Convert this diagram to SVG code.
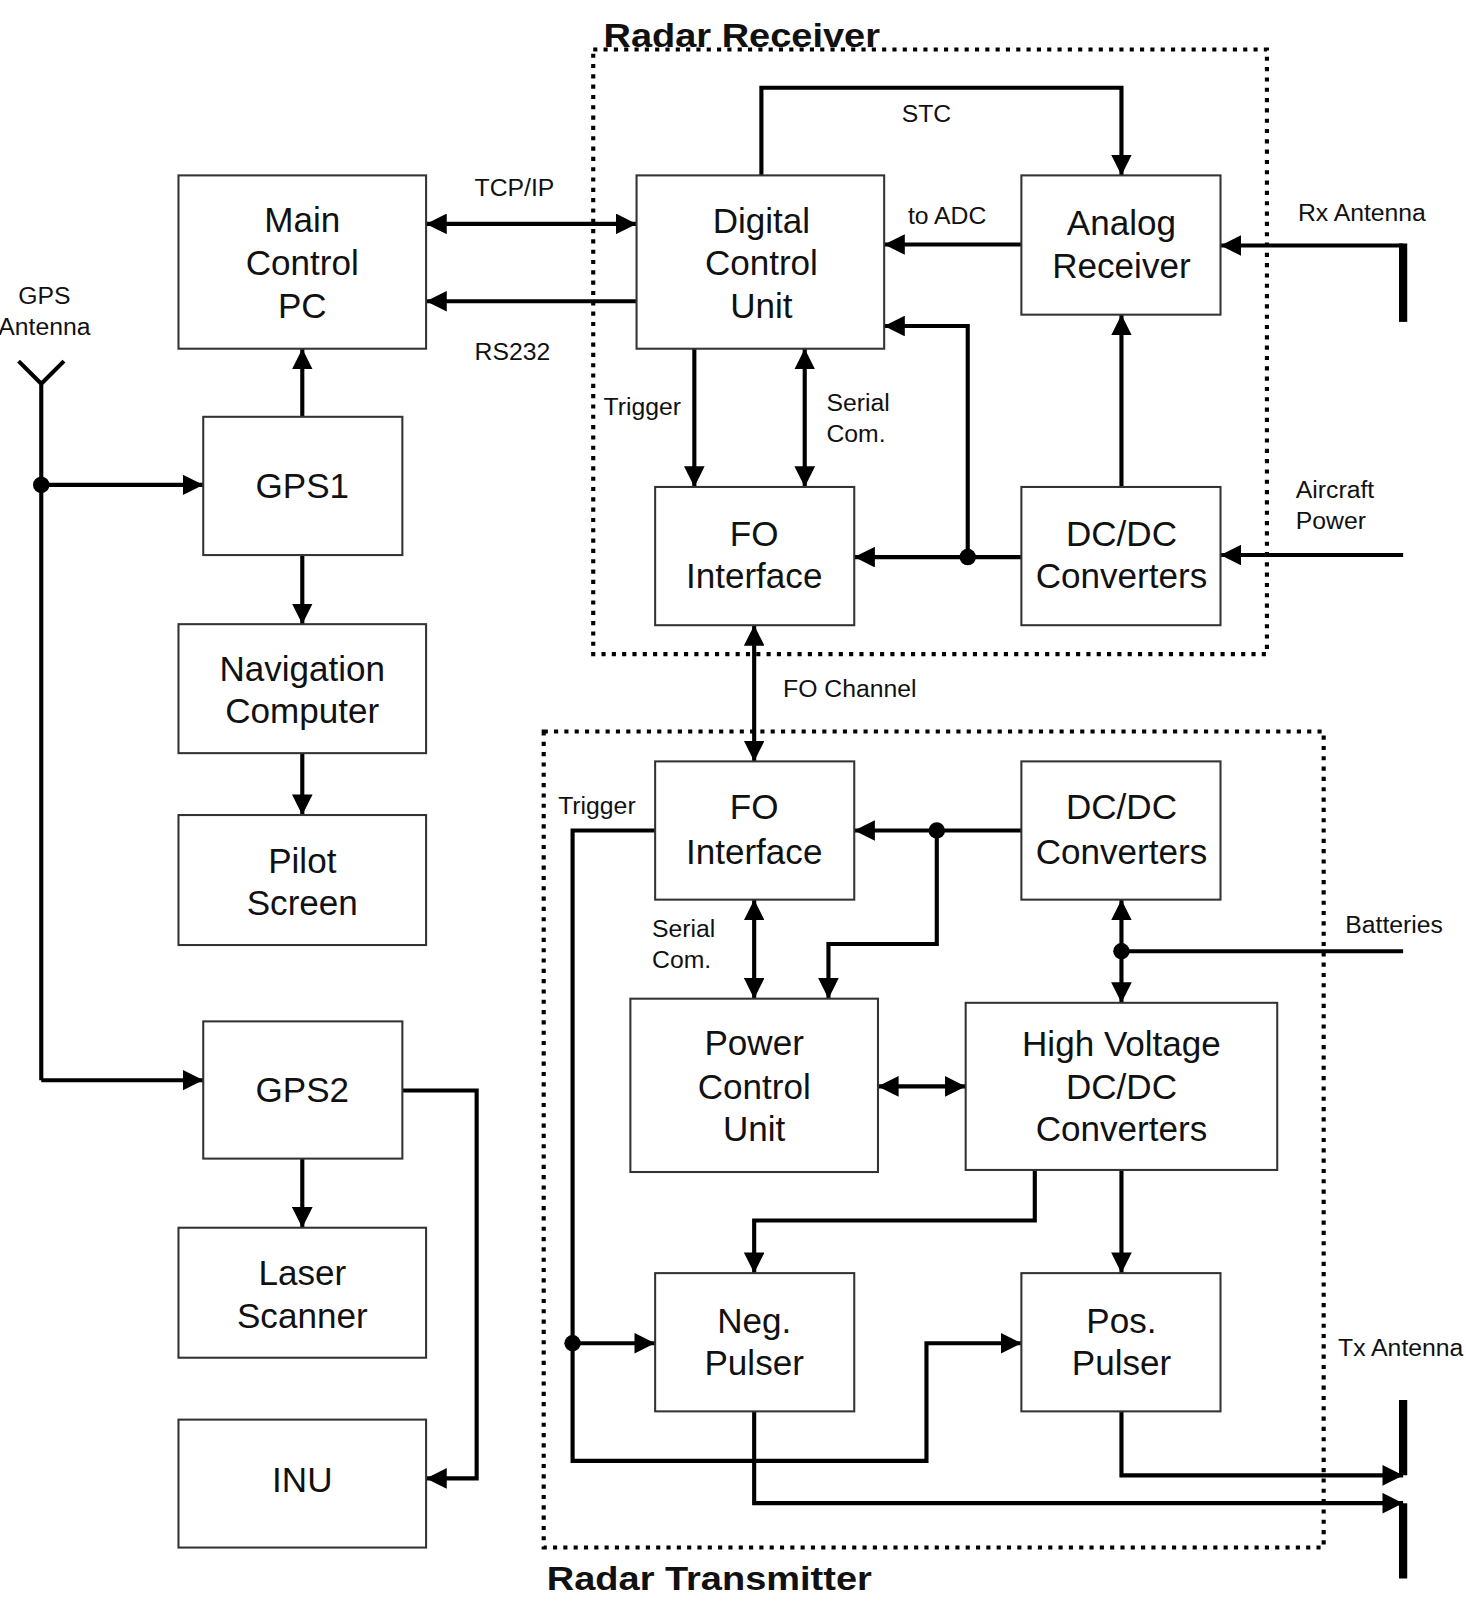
<svg xmlns="http://www.w3.org/2000/svg" width="1466" height="1618" viewBox="0 0 1466 1618">
<defs>
<marker id="a" viewBox="0 0 10 10" refX="10" refY="5" markerWidth="5" markerHeight="5" orient="auto-start-reverse" markerUnits="strokeWidth"><path d="M0,0 L10,5 L0,10 Z" fill="#000"/></marker>
<style>
.b{fill:#fff;stroke:#333;stroke-width:2}
.t{font-family:"Liberation Sans",Arial,sans-serif;font-size:34px;text-anchor:middle;fill:#111}
.l{font-family:"Liberation Sans",Arial,sans-serif;font-size:24px;fill:#111}
.h{font-family:"Liberation Sans",Arial,sans-serif;font-size:32px;font-weight:bold;fill:#111}
.c{fill:none;stroke:#000;stroke-width:4}
.d{fill:none;stroke:#000;stroke-width:4;stroke-dasharray:4 6}
</style>
</defs>
<rect width="1466" height="1618" fill="#fff"/>
<g transform="scale(1.0317)">
<g id="frames">
<rect class="d" x="575" y="48" width="653" height="586"/>
<rect class="d" x="527" y="709" width="756" height="791"/>
<text class="h" x="585" y="46" textLength="268" lengthAdjust="spacingAndGlyphs">Radar Receiver</text>
<text class="h" x="530" y="1541" textLength="315" lengthAdjust="spacingAndGlyphs">Radar Transmitter</text>
</g>
<g id="connectors">
<path class="c" d="M413,217 H617" marker-start="url(#a)" marker-end="url(#a)"/>
<path class="c" d="M617,292 H413" marker-end="url(#a)"/>
<path class="c" d="M293,404 V338" marker-end="url(#a)"/>
<path class="c" d="M293,538 V605" marker-end="url(#a)"/>
<path class="c" d="M293,730 V790" marker-end="url(#a)"/>
<path class="c" d="M18,350 L40,372 L62,350 M40,372 V1047"/>
<path class="c" d="M40,470 H197" marker-end="url(#a)"/>
<path class="c" d="M40,1047 H197" marker-end="url(#a)"/>
<circle cx="40" cy="470" r="8"/>
<path class="c" d="M293,1123 V1190" marker-end="url(#a)"/>
<path class="c" d="M390,1057 H462 V1433 H413" marker-end="url(#a)"/>
<path class="c" d="M738,170 V85 H1087 V170" marker-end="url(#a)"/>
<path class="c" d="M990,237 H857" marker-end="url(#a)"/>
<path class="c" d="M1360,238 H1183" marker-end="url(#a)"/>
<path d="M1360,236 V312" stroke="#000" stroke-width="8"/>
<path class="c" d="M673,338 V472" marker-end="url(#a)"/>
<path class="c" d="M780,338 V472" marker-start="url(#a)" marker-end="url(#a)"/>
<path class="c" d="M990,540 H828" marker-end="url(#a)"/>
<path class="c" d="M938,540 V316 H857" marker-end="url(#a)"/>
<circle cx="938" cy="540" r="8"/>
<path class="c" d="M1087,472 V305" marker-end="url(#a)"/>
<path class="c" d="M1360,538 H1183" marker-end="url(#a)"/>
<path class="c" d="M731,606 V738" marker-start="url(#a)" marker-end="url(#a)"/>
<path class="c" d="M990,805 H828" marker-end="url(#a)"/>
<path class="c" d="M908,805 V915 H803 V968" marker-end="url(#a)"/>
<circle cx="908" cy="805" r="8"/>
<path class="c" d="M731,872 V968" marker-start="url(#a)" marker-end="url(#a)"/>
<path class="c" d="M1087,872 V972" marker-start="url(#a)" marker-end="url(#a)"/>
<path class="c" d="M1360,922 H1087"/>
<circle cx="1087" cy="922" r="8"/>
<path class="c" d="M851,1053 H936" marker-start="url(#a)" marker-end="url(#a)"/>
<path class="c" d="M1003,1134 V1183 H731 V1234" marker-end="url(#a)"/>
<path class="c" d="M1087,1134 V1234" marker-end="url(#a)"/>
<path class="c" d="M635,805 H555 V1416 H898 V1302 H990" marker-end="url(#a)"/>
<path class="c" d="M555,1302 H635" marker-end="url(#a)"/>
<circle cx="555" cy="1302" r="8"/>
<path class="c" d="M1087,1368 V1430 H1360" marker-end="url(#a)"/>
<path class="c" d="M731,1368 V1457 H1360" marker-end="url(#a)"/>
<path d="M1360,1357 V1430 M1360,1457 V1530" stroke="#000" stroke-width="8"/>
</g>
<g id="labels">
<text class="l" x="460" y="190">TCP/IP</text>
<text class="l" x="460" y="349">RS232</text>
<text class="l" x="43" y="295" text-anchor="middle">GPS</text>
<text class="l" x="43" y="325" text-anchor="middle">Antenna</text>
<text class="l" x="874" y="118">STC</text>
<text class="l" x="880" y="217">to ADC</text>
<text class="l" x="1258" y="214">Rx Antenna</text>
<text class="l" x="585" y="402">Trigger</text>
<text class="l" x="801" y="398">Serial</text>
<text class="l" x="801" y="428">Com.</text>
<text class="l" x="1256" y="483">Aircraft</text>
<text class="l" x="1256" y="513">Power</text>
<text class="l" x="759" y="676">FO Channel</text>
<text class="l" x="541" y="789">Trigger</text>
<text class="l" x="632" y="908">Serial</text>
<text class="l" x="632" y="938">Com.</text>
<text class="l" x="1304" y="904">Batteries</text>
<text class="l" x="1297" y="1314">Tx Antenna</text>
</g>
<g id="main"><rect class="b" x="173" y="170" width="240" height="168"/><text class="t" x="293" y="225">Main</text><text class="t" x="293" y="267">Control</text><text class="t" x="293" y="308">PC</text></g>
<g id="gps1"><rect class="b" x="197" y="404" width="193" height="134"/><text class="t" x="293" y="483">GPS1</text></g>
<g id="nav"><rect class="b" x="173" y="605" width="240" height="125"/><text class="t" x="293" y="660">Navigation</text><text class="t" x="293" y="701">Computer</text></g>
<g id="pilot"><rect class="b" x="173" y="790" width="240" height="126"/><text class="t" x="293" y="846">Pilot</text><text class="t" x="293" y="887">Screen</text></g>
<g id="gps2"><rect class="b" x="197" y="990" width="193" height="133"/><text class="t" x="293" y="1068">GPS2</text></g>
<g id="laser"><rect class="b" x="173" y="1190" width="240" height="126"/><text class="t" x="293" y="1246">Laser</text><text class="t" x="293" y="1287">Scanner</text></g>
<g id="inu"><rect class="b" x="173" y="1376" width="240" height="124"/><text class="t" x="293" y="1446">INU</text></g>
<g id="dcu"><rect class="b" x="617" y="170" width="240" height="168"/><text class="t" x="738" y="226">Digital</text><text class="t" x="738" y="267">Control</text><text class="t" x="738" y="308">Unit</text></g>
<g id="analog"><rect class="b" x="990" y="170" width="193" height="135"/><text class="t" x="1087" y="228">Analog</text><text class="t" x="1087" y="269">Receiver</text></g>
<g id="fo-rx"><rect class="b" x="635" y="472" width="193" height="134"/><text class="t" x="731" y="529">FO</text><text class="t" x="731" y="570">Interface</text></g>
<g id="dcdc-rx"><rect class="b" x="990" y="472" width="193" height="134"/><text class="t" x="1087" y="529">DC/DC</text><text class="t" x="1087" y="570">Converters</text></g>
<g id="fo-tx"><rect class="b" x="635" y="738" width="193" height="134"/><text class="t" x="731" y="794">FO</text><text class="t" x="731" y="837">Interface</text></g>
<g id="dcdc-tx"><rect class="b" x="990" y="738" width="193" height="134"/><text class="t" x="1087" y="794">DC/DC</text><text class="t" x="1087" y="837">Converters</text></g>
<g id="pcu"><rect class="b" x="611" y="968" width="240" height="168"/><text class="t" x="731" y="1023">Power</text><text class="t" x="731" y="1065">Control</text><text class="t" x="731" y="1106">Unit</text></g>
<g id="hv"><rect class="b" x="936" y="972" width="302" height="162"/><text class="t" x="1087" y="1024">High  Voltage</text><text class="t" x="1087" y="1065">DC/DC</text><text class="t" x="1087" y="1106">Converters</text></g>
<g id="neg"><rect class="b" x="635" y="1234" width="193" height="134"/><text class="t" x="731" y="1292">Neg.</text><text class="t" x="731" y="1333">Pulser</text></g>
<g id="pos"><rect class="b" x="990" y="1234" width="193" height="134"/><text class="t" x="1087" y="1292">Pos.</text><text class="t" x="1087" y="1333">Pulser</text></g>
</g>
</svg>
